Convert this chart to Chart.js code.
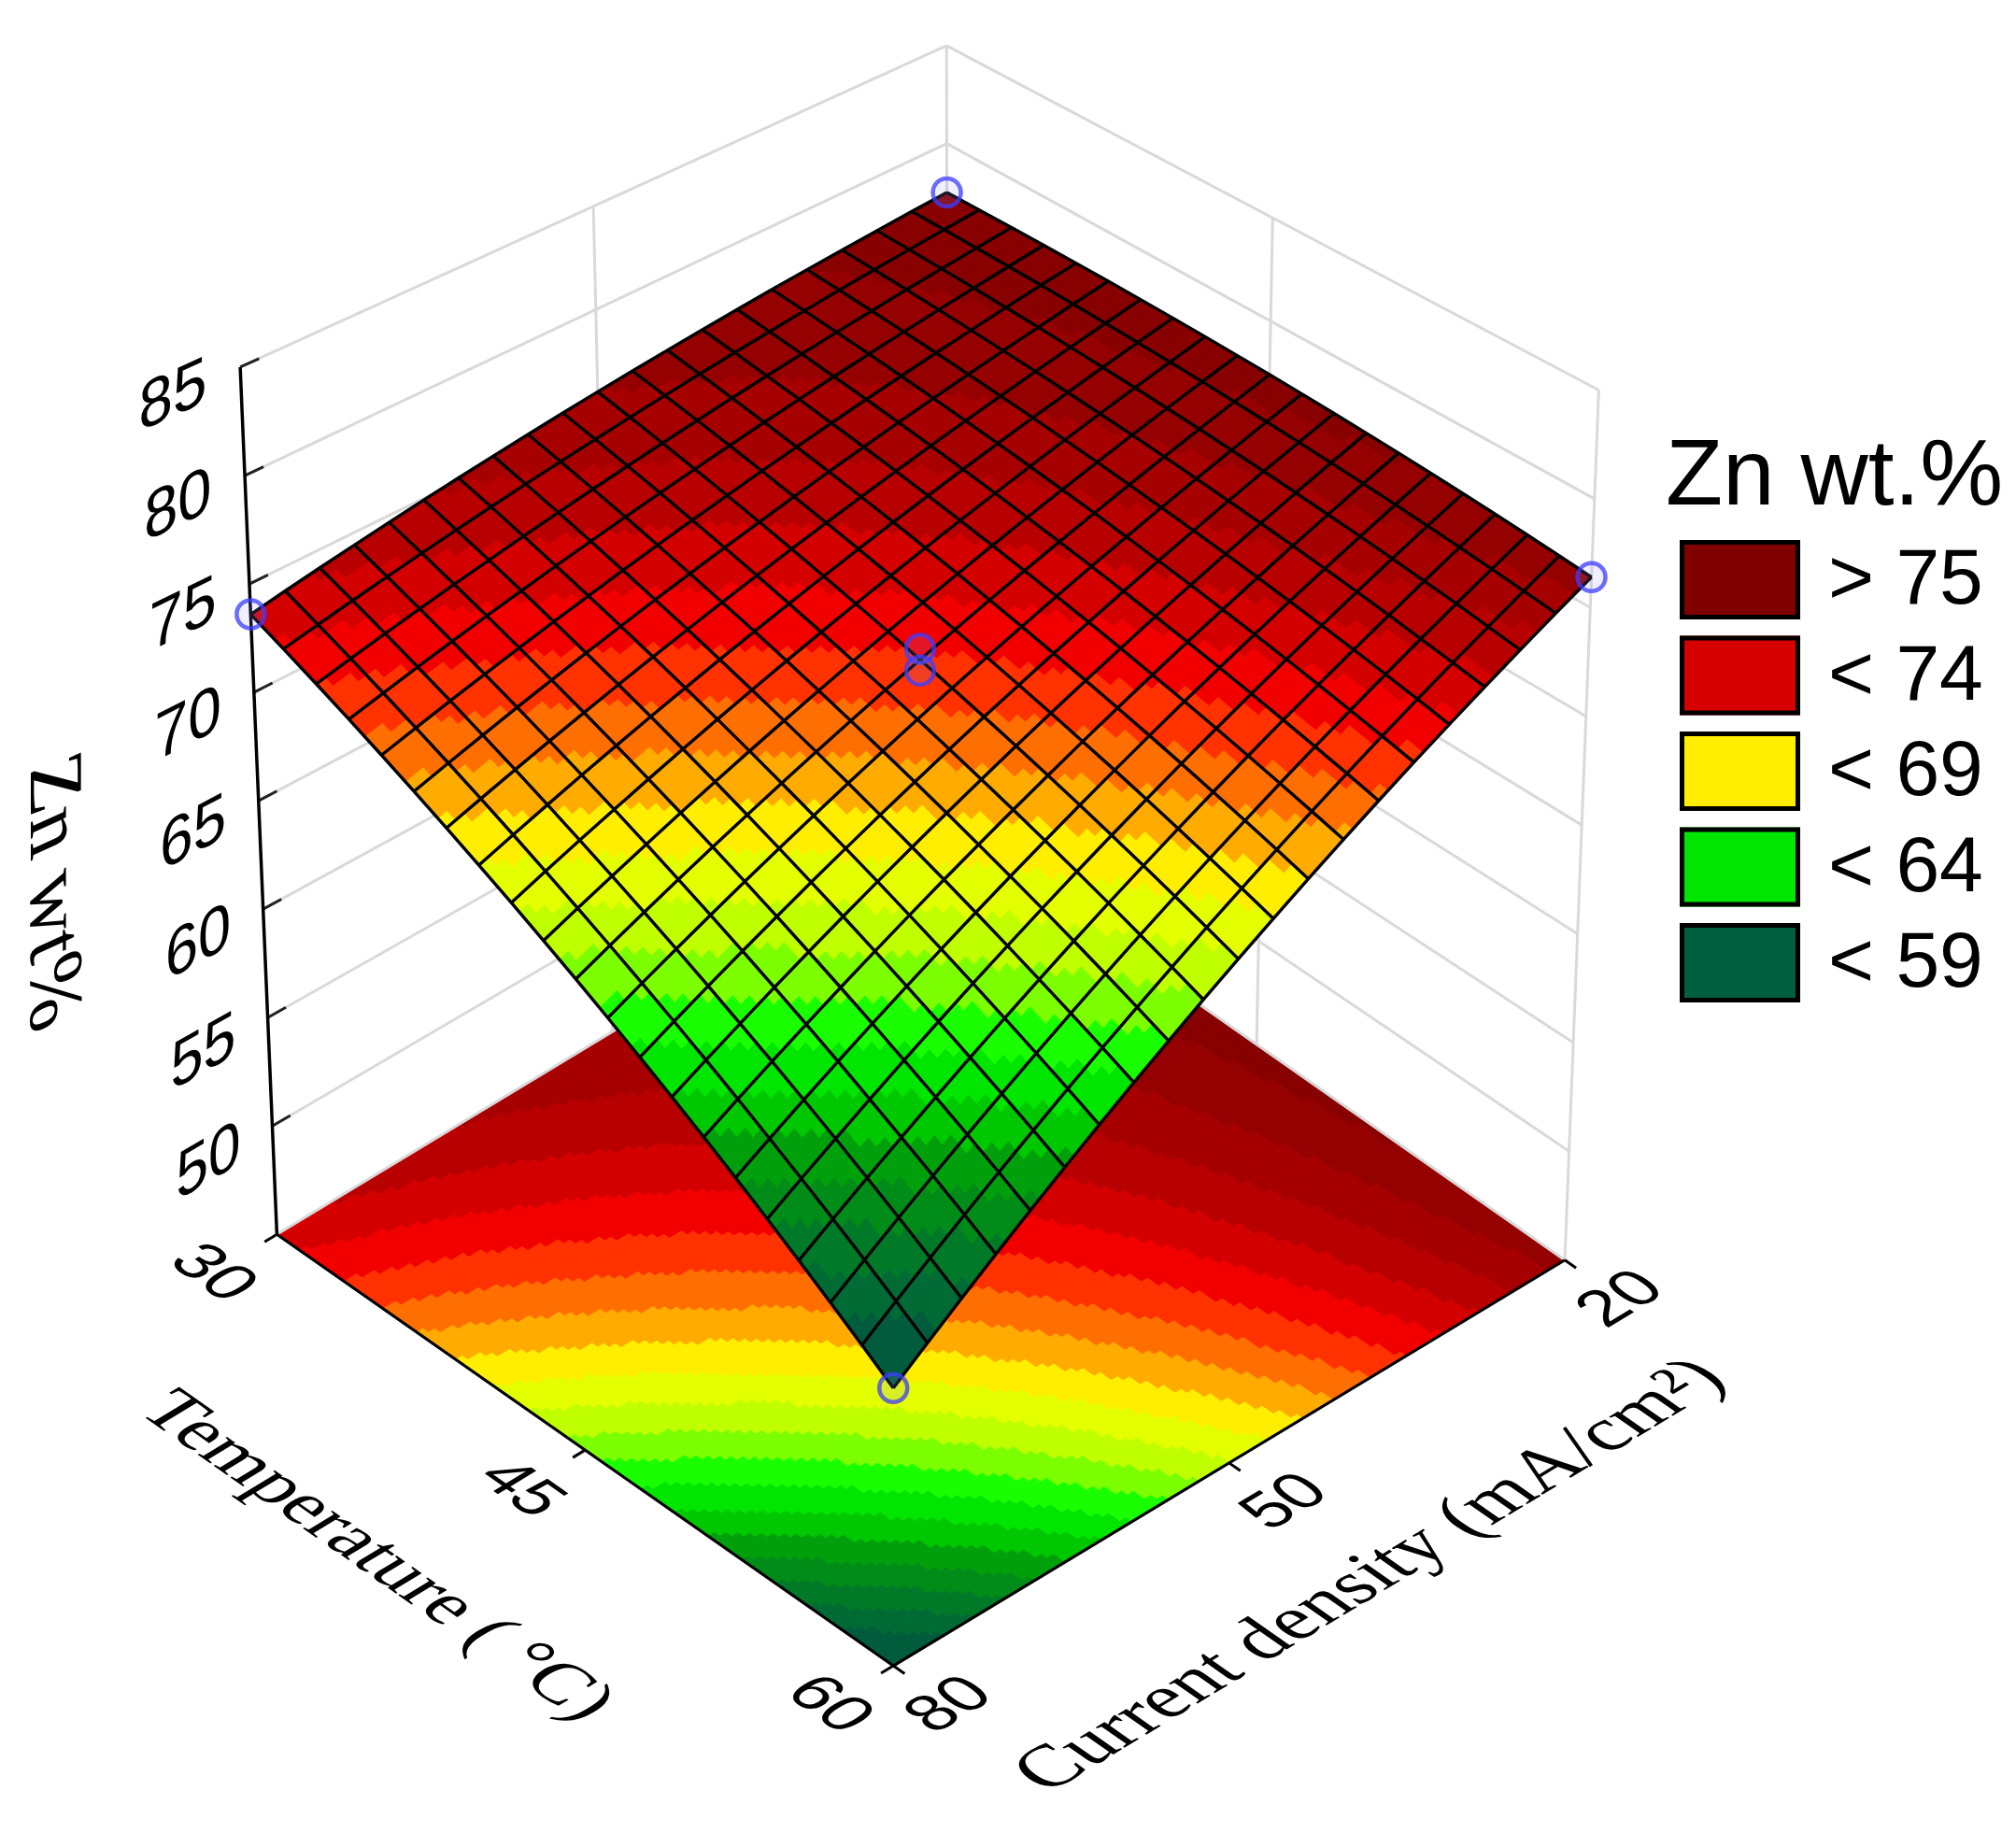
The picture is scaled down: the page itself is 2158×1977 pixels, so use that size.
<!DOCTYPE html>
<html>
<head>
<meta charset="utf-8">
<style>
  html, body { margin: 0; padding: 0; background: #fff; }
  #chart { display: block; }
</style>
<script src="https://cdn.jsdelivr.net/npm/chart.js@4.4.1/dist/chart.umd.min.js"></script>
</head>
<body>
<canvas id="chart" width="2158" height="1977" style="width:2158px;height:1977px"></canvas>
<script>
// --- Datos del gráfico ---
const tempTicks = [30, 45, 60];
const currentTicks = [20, 50, 80];
const znTicks = [50, 55, 60, 65, 70, 75, 80, 85];
const znRange = [45, 85];

// puntos experimentales (círculos azules)
const obsTemp = [30, 30, 60, 60, 45, 45];
const obsCurrent = [20, 80, 20, 80, 50, 50];
const obsZn = [77.5, 73.6, 76.4, 56.4, 72.4, 71.4];

// superficie ajustada (unidades codificadas): b0, bT, bJ, bTJ, bTT, bJJ
const znFit = [71.9, -4.575, -5.975, -4.025, -0.4625, -0.4625];

// bandas de color de la superficie y del contorno
const bandLevels = [58, 59, 60, 61, 62, 63, 64, 65, 66, 67, 68, 69, 70, 71, 72, 73, 74, 75, 76, 77];
const bandColors = ['#005c3c', '#006b35', '#007a28', '#008c18', '#00a00c', '#00c800', '#00e600',
  '#1aff00', '#7cff00', '#c0ff00', '#e4ff00', '#ffee00', '#ffab00', '#ff6f00', '#ff3200',
  '#f20000', '#d40000', '#b80000', '#a60000', '#950000', '#880000'];

// leyenda
const legendTitle = 'Zn wt.%';
const legendLabels = ['> 75', '< 74', '< 69', '< 64', '< 59'];
const legendColors = ['#800000', '#d70000', '#ffee00', '#00e600', '#005f3f'];

// --- Geometría de la vista (píxeles) ---
const W = 2158, H = 1977;
// esquinas de la caja: c + [T alto][J alto][Zn alto]
const box = {
  c000: [1014, 885], c010: [282, 1328], c100: [1686, 1356], c110: [954, 1799],
  c001: [1012, 30],  c011: [242, 381],  c101: [1723, 406],  c111: [954, 735]
};
const meshSteps = 20;

function lerp(a, b, k) {
  return [a[0] + (b[0] - a[0]) * k, a[1] + (b[1] - a[1]) * k];
}

function project(t, j, z) {
  const u = (t - tempTicks[0]) / (tempTicks[2] - tempTicks[0]);
  const v = (j - currentTicks[0]) / (currentTicks[2] - currentTicks[0]);
  const w = (z - znRange[0]) / (znRange[1] - znRange[0]);
  const bottom = lerp(lerp(box.c000, box.c010, v), lerp(box.c100, box.c110, v), u);
  const top = lerp(lerp(box.c001, box.c011, v), lerp(box.c101, box.c111, v), u);
  const p = lerp(bottom, top, w);
  return { x: p[0], y: p[1] };
}

function znAt(t, j) {
  const x1 = (t - 45) / 15;
  const x2 = (j - 50) / 30;
  const [b0, bT, bJ, bTJ, bTT, bJJ] = znFit;
  return b0 + bT * x1 + bJ * x2 + bTJ * x1 * x2 + bTT * x1 * x1 + bJJ * x2 * x2;
}

function bandColor(z) {
  let i = 0;
  while (i < bandLevels.length && z >= bandLevels[i]) i++;
  return bandColors[i];
}

// --- Datasets de líneas ---
const datasets = [];
const tMin = tempTicks[0], tMax = tempTicks[2];
const jMin = currentTicks[0], jMax = currentTicks[2];
const zMin = znRange[0], zMax = znRange[1];

function addLine(points, color, width, order, role) {
  datasets.push({
    data: points.map(p => project(p[0], p[1], p[2])),
    showLine: true,
    borderColor: color,
    borderWidth: width,
    pointRadius: 0,
    fill: false,
    tension: 0,
    borderJoinStyle: 'round',
    order: order,
    role: role || 'line'
  });
}

// paredes del fondo
const gridGray = '#d9d9d9';
znTicks.forEach(z => {
  addLine([[tMin, jMax, z], [tMin, jMin, z]], gridGray, 3, 6);
  addLine([[tMin, jMin, z], [tMax, jMin, z]], gridGray, 3, 6);
});
addLine([[tMin, currentTicks[1], zMin], [tMin, currentTicks[1], zMax]], gridGray, 3, 6);
addLine([[tMin, jMin, zMin], [tMin, jMin, zMax]], gridGray, 3, 6);
addLine([[tempTicks[1], jMin, zMin], [tempTicks[1], jMin, zMax]], gridGray, 3, 6);
addLine([[tMax, jMin, zMin], [tMax, jMin, zMax]], gridGray, 3, 6);
addLine([[tMin, jMax, zMin], [tMin, jMin, zMin], [tMax, jMin, zMin]], gridGray, 3, 6);

// eje Zn y bordes del suelo
addLine([[tMin, jMax, zMin], [tMin, jMax, zMax]], '#000', 3.5, 5);
znTicks.forEach(z => addLine([[tMin, jMax, z], [tMin, jMax - 1.6, z]], '#222', 3, 5));
addLine([[tMin, jMax, zMin], [tMax, jMax, zMin], [tMax, jMin, zMin]], '#000', 3.2, 5);
tempTicks.forEach(t => addLine([[t, jMax, zMin], [t, jMax + 1.1, zMin]], '#000', 3, 5));
currentTicks.forEach(j => addLine([[tMax, j, zMin], [tMax + 0.55, j, zMin]], '#000', 3, 5));

// malla de la superficie
for (let i = 0; i <= meshSteps; i++) {
  const t = tMin + (tMax - tMin) * i / meshSteps;
  const j = jMin + (jMax - jMin) * i / meshSteps;
  const rowT = [], rowJ = [];
  for (let k = 0; k <= meshSteps; k++) {
    const jj = jMin + (jMax - jMin) * k / meshSteps;
    const tt = tMin + (tMax - tMin) * k / meshSteps;
    rowT.push([t, jj, znAt(t, jj)]);
    rowJ.push([tt, j, znAt(tt, j)]);
  }
  addLine(rowT, '#000', 3.4, 2, 'mesh');
  addLine(rowJ, '#000', 3.4, 2, 'mesh');
}

// puntos experimentales
datasets.push({
  data: obsTemp.map((t, i) => project(t, obsCurrent[i], obsZn[i])),
  showLine: false,
  pointRadius: 15,
  pointBorderWidth: 4.5,
  pointBorderColor: 'rgba(60, 60, 255, 0.75)',
  pointBackgroundColor: 'rgba(150, 150, 255, 0.15)',
  order: 1,
  role: 'points'
});

// --- Plugins de dibujo ---
function px(chart, p) {
  return [chart.scales.x.getPixelForValue(p.x), chart.scales.y.getPixelForValue(p.y)];
}

function fillQuad(ctx, chart, pts, color) {
  ctx.beginPath();
  pts.forEach((p, i) => {
    const q = px(chart, p);
    if (i === 0) ctx.moveTo(q[0], q[1]); else ctx.lineTo(q[0], q[1]);
  });
  ctx.closePath();
  ctx.fillStyle = color;
  ctx.strokeStyle = color;
  ctx.fill();
  ctx.stroke();
}

function drawPatch(chart, steps, onFloor) {
  const ctx = chart.ctx;
  ctx.save();
  ctx.lineWidth = 1.2;
  ctx.lineJoin = 'round';
  for (let a = 0; a < steps; a++) {
    for (let b = 0; b < steps; b++) {
      const t0 = tMin + (tMax - tMin) * a / steps, t1 = tMin + (tMax - tMin) * (a + 1) / steps;
      const j0 = jMin + (jMax - jMin) * b / steps, j1 = jMin + (jMax - jMin) * (b + 1) / steps;
      const zc = znAt((t0 + t1) / 2, (j0 + j1) / 2);
      const zf = (t, j) => onFloor ? zMin : znAt(t, j);
      const pts = [project(t0, j0, zf(t0, j0)), project(t1, j0, zf(t1, j0)),
                   project(t1, j1, zf(t1, j1)), project(t0, j1, zf(t0, j1))];
      fillQuad(ctx, chart, pts, bandColor(zc));
    }
  }
  ctx.restore();
}

const surfacePlugin = {
  id: 'surfacePlugin',
  beforeDatasetsDraw(chart) {
    chart.$surfaceDone = false;
    drawPatch(chart, 110, true);
  },
  beforeDatasetDraw(chart, args) {
    const ds = chart.data.datasets[args.index];
    if (ds.role === 'mesh' && !chart.$surfaceDone) {
      chart.$surfaceDone = true;
      drawPatch(chart, meshSteps * 4, false);
    }
  }
};

function unit(a, b) {
  const dx = b.x - a.x, dy = b.y - a.y;
  const len = Math.hypot(dx, dy);
  return { x: dx / len, y: dy / len };
}

function planeText(ctx, text, x, y, ax, ay, bx, by, font, align, baseline) {
  ctx.save();
  ctx.setTransform(ax, ay, bx, by, x, y);
  ctx.font = font;
  ctx.textAlign = align;
  ctx.textBaseline = baseline;
  ctx.fillStyle = '#000';
  ctx.fillText(text, 0, 0);
  ctx.restore();
}

const textPlugin = {
  id: 'textPlugin',
  afterDraw(chart) {
    const ctx = chart.ctx;
    const sx = v => chart.scales.x.getPixelForValue(v);
    const sy = v => chart.scales.y.getPixelForValue(v);
    const tDir = unit(project(tMin, jMax, zMin), project(tMax, jMax, zMin));
    const jDir = unit(project(tMax, jMin, zMin), project(tMax, jMax, zMin));

    // etiquetas del eje Zn
    znTicks.forEach(z => {
      const p = project(tMin, jMax, z);
      const d = unit(p, project(tMin, jMin, z));
      planeText(ctx, String(z), sx(p.x - d.x * 40), sy(p.y - d.y * 40),
        d.x, d.y, 0, 1, '72px "Liberation Sans"', 'right', 'middle');
    });

    // etiquetas de temperatura
    tempTicks.forEach(t => {
      const p = project(t, jMax, zMin);
      planeText(ctx, String(t), sx(p.x + jDir.x * 83), sy(p.y + jDir.y * 83),
        tDir.x, tDir.y, jDir.x, jDir.y, '70px "Liberation Sans"', 'center', 'middle');
    });

    // etiquetas de densidad de corriente
    currentTicks.forEach(j => {
      const p = project(tMax, j, zMin);
      planeText(ctx, String(j), sx(p.x + tDir.x * 76), sy(p.y + tDir.y * 76),
        -jDir.x, -jDir.y, tDir.x, tDir.y, '70px "Liberation Sans"', 'center', 'middle');
    });

    // títulos de los ejes
    const mT = project(tempTicks[1], jMax, zMin);
    planeText(ctx, 'Temperature ( \u00B0C)',
      sx(mT.x + jDir.x * 248 - tDir.x * 20), sy(mT.y + jDir.y * 248 - tDir.y * 20),
      tDir.x, tDir.y, jDir.x, jDir.y, '80px "Liberation Serif"', 'center', 'middle');

    const mJ = project(tMax, currentTicks[1], zMin);
    planeText(ctx, 'Current density (mA/cm\u00B2)',
      sx(mJ.x + tDir.x * 204 + jDir.x * 14), sy(mJ.y + tDir.y * 204 + jDir.y * 14),
      -jDir.x, -jDir.y, tDir.x, tDir.y, '82px "Liberation Serif"', 'center', 'middle');

    planeText(ctx, 'Zn wt%', 55, 957, 0, 1, -0.91, 0.415,
      '90px "Liberation Serif"', 'center', 'middle');

    // leyenda
    ctx.save();
    ctx.fillStyle = '#000';
    ctx.font = '100px "Liberation Sans"';
    ctx.textAlign = 'left';
    ctx.textBaseline = 'alphabetic';
    ctx.fillText(legendTitle, 1783, 540);
    ctx.font = '84px "Liberation Sans"';
    ctx.textBaseline = 'middle';
    legendLabels.forEach((label, i) => {
      const y = 578 + i * 102.5;
      ctx.fillStyle = legendColors[i];
      ctx.fillRect(1798, y, 129, 85);
      ctx.lineWidth = 5;
      ctx.strokeStyle = '#000';
      ctx.strokeRect(1800.5, y + 2.5, 124, 80);
      ctx.fillStyle = '#000';
      ctx.fillText(label, 1957, y + 45);
    });
    ctx.restore();
  }
};

// --- Inicialización ---
new Chart(document.getElementById('chart'), {
  type: 'scatter',
  data: { datasets: datasets },
  options: {
    responsive: false,
    devicePixelRatio: 1,
    animation: false,
    events: [],
    layout: { padding: 0 },
    scales: {
      x: { type: 'linear', min: 0, max: W, display: false },
      y: { type: 'linear', min: 0, max: H, reverse: true, display: false }
    },
    plugins: {
      legend: { display: false },
      tooltip: { enabled: false }
    }
  },
  plugins: [surfacePlugin, textPlugin]
});
</script>
</body>
</html>
